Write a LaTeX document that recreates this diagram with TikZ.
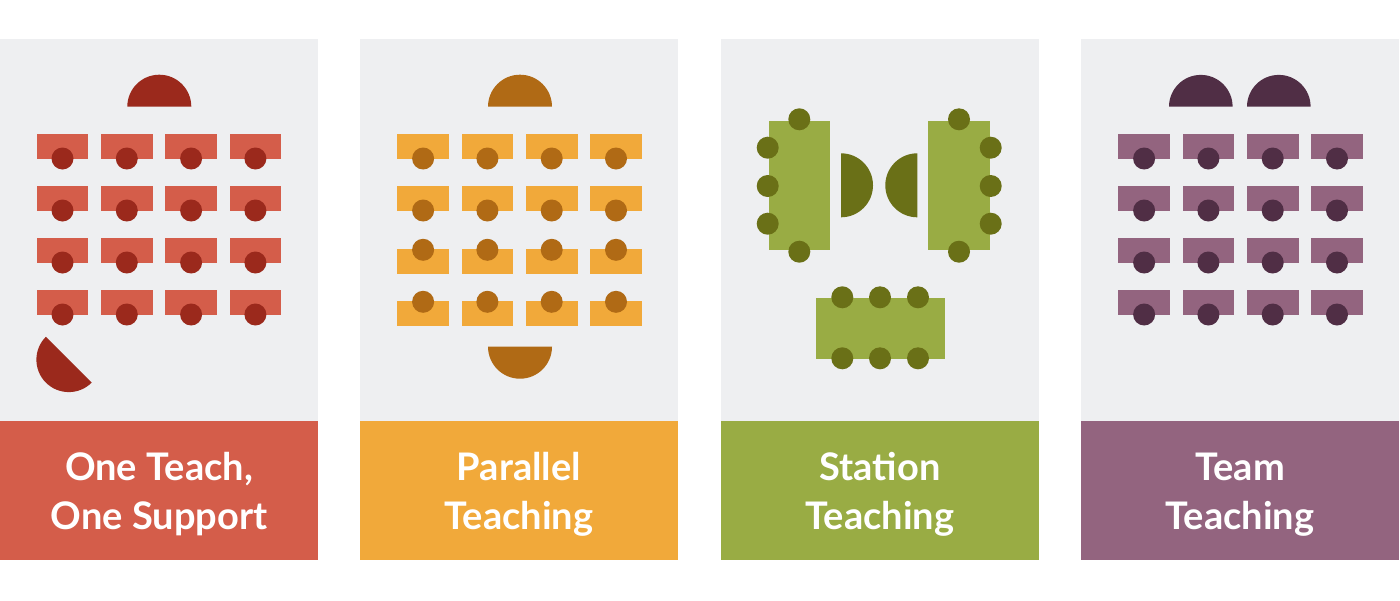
\documentclass[tikz,border=0pt]{standalone}
\usepackage{fontspec}
\setmainfont{Lato}
\definecolor{panelbg}{HTML}{EEEFF1}
\definecolor{cA}{HTML}{D45D4A}
\definecolor{dA}{HTML}{9B291C}
\definecolor{cB}{HTML}{F1A93A}
\definecolor{dB}{HTML}{B06A15}
\definecolor{cC}{HTML}{99AC44}
\definecolor{dC}{HTML}{6A7017}
\definecolor{cD}{HTML}{93647F}
\definecolor{dD}{HTML}{502E45}
\tikzset{
  label/.style={text=white, font=\bfseries\fontsize{38}{46}\selectfont, anchor=base, inner sep=0pt},
}
\begin{document}
\begin{tikzpicture}[x=1pt,y=-1pt]
\useasboundingbox (0,0) rectangle (1400,600);
\fill[white] (0,0) rectangle (1400,600);
% panels
\foreach \px/\c in {0/cA,360/cB,721/cC,1081/cD}{
  \fill[panelbg] (\px,39) rectangle ++(318,382);
  \fill[\c] (\px,421) rectangle ++(318,139);
}
% ---------- Panel 1
\fill[dA] (127.3,106.7) arc[start angle=180,end angle=360,radius=32] -- cycle;
\foreach \c in {0,...,3}{\foreach \r in {0,...,3}{
  \fill[cA] ({36.7+64.3*\c},{134+52*\r}) rectangle ++(51.7,25.3);
  \fill[dA] ({62.5+64.3*\c},{158.5+52*\r}) circle[radius=11];
}}
\fill[dA] (91.7,382.6) arc[start angle=45,end angle=225,radius=32.4] -- cycle;
% ---------- Panel 2
\fill[dB] (488,106.7) arc[start angle=180,end angle=360,radius=32] -- cycle;
\foreach \c in {0,...,3}{
  \foreach \r in {0,1}{
    \fill[cB] ({397.3+64.3*\c},{134+52*\r}) rectangle ++(51.7,25.3);
    \fill[dB] ({423.1+64.3*\c},{158.5+52*\r}) circle[radius=11];
  }
  \foreach \r in {0,1}{
    \fill[cB] ({397.3+64.3*\c},{249+52*\r}) rectangle ++(51.7,25.3);
    \fill[dB] ({423.1+64.3*\c},{249.8+52*\r}) circle[radius=11];
  }
}
\fill[dB] (488,346.7) arc[start angle=180,end angle=0,radius=32] -- cycle;
% ---------- Panel 3
\fill[cC] (769,121) rectangle (829.7,250.3);
\fill[cC] (928.3,121) rectangle (989.7,250.3);
\fill[cC] (815.7,298) rectangle (945,358.7);
\foreach \x/\y in {799.3/119.3, 767.7/147.7, 767.7/186, 767.7/223.7, 799.3/251.7,
                   959/119.3, 990.7/147.7, 990.7/186, 990.7/223.7, 959/251.7,
                   842.3/297.3, 880/297.3, 918/297.3, 842.3/358.3, 880/358.3, 918/358.3}{
  \fill[dC] (\x,\y) circle[radius=11];
}
\fill[dC] (841,153.3) arc[start angle=270,end angle=450,radius=32] -- cycle;
\fill[dC] (917.3,153.3) arc[start angle=270,end angle=90,radius=32] -- cycle;
% ---------- Panel 4
\fill[dD] (1169,106.7) arc[start angle=180,end angle=360,radius=31.8] -- cycle;
\fill[dD] (1247,106.7) arc[start angle=180,end angle=360,radius=31.8] -- cycle;
\foreach \c in {0,...,3}{\foreach \r in {0,...,3}{
  \fill[cD] ({1118.3+64.3*\c},{134+52*\r}) rectangle ++(51.7,25.3);
  \fill[dD] ({1144.1+64.3*\c},{158.5+52*\r}) circle[radius=11];
}}
% ---------- Labels
\node[label] (l1a) at (159,480) {One Teach,};
\node[label] (l1b) at (159,529) {One Support};
\node[label] (l2a) at (519,480) {Parallel};
\node[label] (l2b) at (519,529) {Teaching};
\node[label] (l3a) at (880,480) {Station};
\node[label] (l3b) at (880,529) {Teaching};
\node[label] (l4a) at (1240,480) {Team};
\node[label] (l4b) at (1240,529) {Teaching};
\end{tikzpicture}
\end{document}
